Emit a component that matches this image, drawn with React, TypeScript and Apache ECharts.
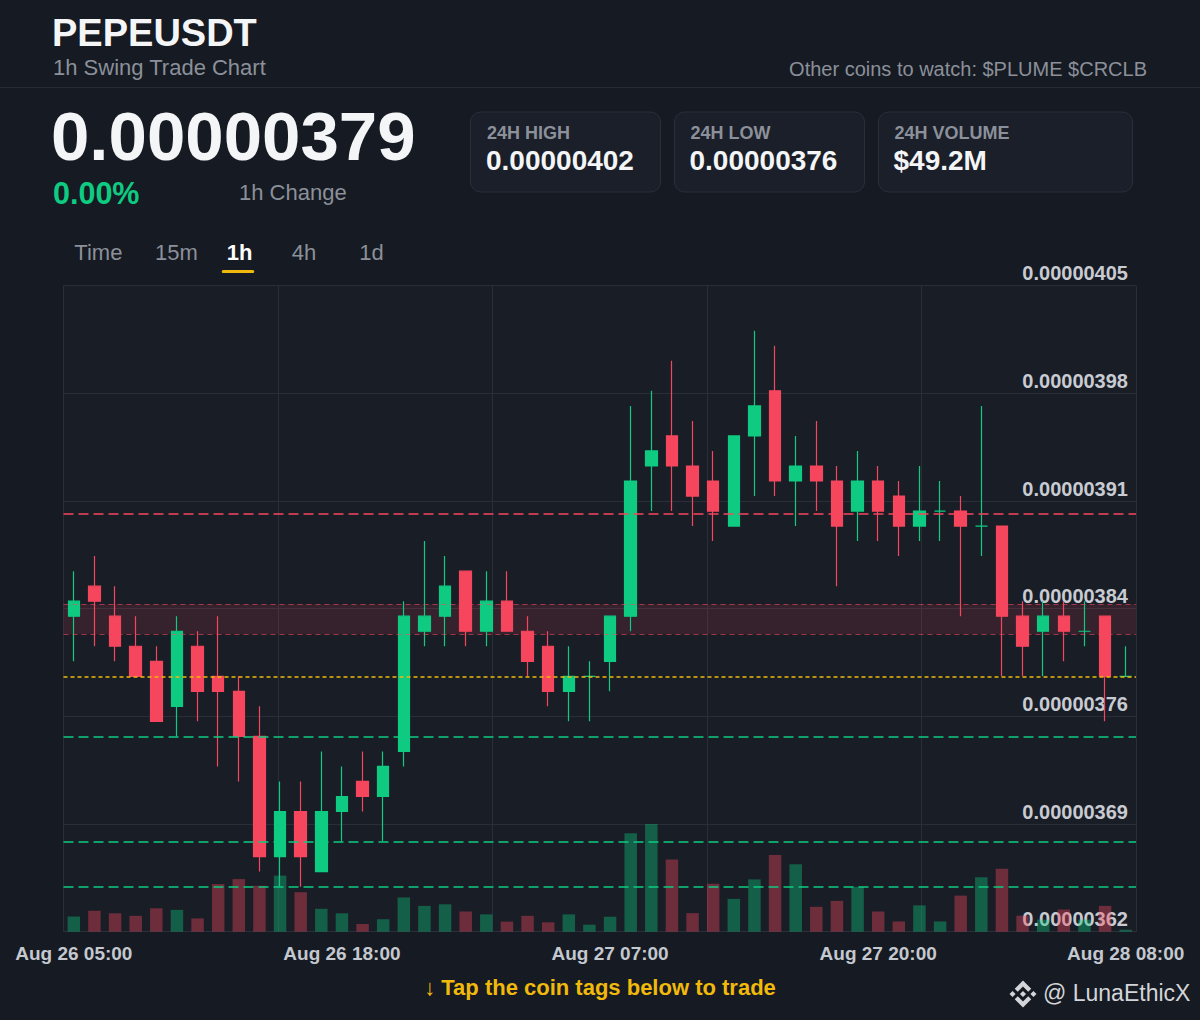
import React, { useEffect, useRef } from "react";
import * as echarts from "echarts";

// ---- data (prices in units of 1e-8 USDT) ----
const OPEN = [383, 385, 383, 381, 380, 377, 381, 379, 378, 375, 367, 370, 366, 370, 372, 371, 374, 382, 383, 386, 382, 384, 382, 381, 378, 379, 380, 383, 393, 395, 393, 392, 389, 395, 398, 392, 393, 392, 390, 392, 391, 389, 390, 390, 389, 389, 383, 382, 383, 382, 383, 379];
const HIGH = [386, 387, 385, 383, 381, 383, 382, 383, 379, 377, 372, 372, 374, 373, 374, 374, 384, 388, 387, 386, 386, 386, 383, 382, 381, 380, 383, 397, 398, 400, 396, 394, 395, 402, 401, 395, 396, 393, 394, 393, 392, 393, 392, 391, 397, 389, 384, 384, 384, 384, 383, 381];
const LOW = [380, 381, 380, 379, 376, 375, 376, 373, 372, 366, 365, 365, 366, 368, 370, 368, 373, 381, 381, 381, 381, 382, 379, 377, 376, 376, 378, 382, 390, 390, 389, 388, 389, 391, 391, 389, 390, 385, 388, 388, 387, 388, 388, 383, 387, 379, 379, 379, 380, 381, 376, 379];
const CLOSE = [384, 384, 381, 379, 376, 382, 378, 378, 375, 367, 370, 367, 370, 371, 371, 373, 383, 383, 385, 382, 384, 382, 380, 378, 379, 379, 383, 392, 394, 393, 391, 390, 395, 397, 392, 393, 392, 389, 392, 390, 389, 390, 390, 389, 389, 383, 381, 383, 382, 382, 379, 379];
// volume, millions USDT
const VOLUME = [0.84, 1.16, 1.02, 0.88, 1.3, 1.21, 0.74, 2.64, 2.92, 2.55, 3.11, 2.19, 1.27, 1.02, 0.43, 0.69, 1.9, 1.43, 1.52, 1.12, 0.96, 0.56, 0.88, 0.52, 0.96, 0.39, 0.83, 5.46, 5.97, 4.01, 1.03, 2.66, 1.82, 2.9, 4.25, 3.74, 1.38, 1.71, 2.49, 1.12, 0.57, 1.46, 0.57, 2.0, 3.02, 3.49, 0.89, 0.67, 1.23, 0.67, 1.43, 0.11];

// price axis range (1e-8 units)
const AXIS_MIN = 362;
const AXIS_MAX = 405;
const AXIS_SPLITS = 6;

// levels (1e-8 units)
const RESISTANCE = [389.8];
const ZONE = [381.8, 383.8];
const CURRENT = [379];
const SUPPORTS = [375, 368, 365];

// time categories
const START_DAY = 26;
const START_HOUR = 5;
const LABEL_INDEXES = [0, 13, 26, 39, 51];

const pad = (n: number) => (n < 10 ? "0" + n : "" + n);
const TIMES: string[] = OPEN.map((_, i) => {
  const h = START_HOUR + i;
  return `Aug ${START_DAY + Math.floor(h / 24)} ${pad(h % 24)}:00`;
});

const UP = "#0ecb81";
const DOWN = "#f6465d";
const FONT = "'Liberation Sans', Arial, Helvetica, sans-serif";
const BINANCE =
  "M16.624 13.9202l2.7175 2.7154-7.353 7.353-7.353-7.352 2.7175-2.7164 4.6355 4.6595 4.6356-4.6595zm4.6366-4.6366L24 12l-2.7154 2.7164L18.5682 12l2.6924-2.7164zm-9.272.001l2.7163 2.6914-2.7164 2.7174v-.001L9.2721 12l2.7164-2.7154zm-9.2722-.001L5.4088 12l-2.6914 2.6924L0 12l2.7164-2.7164zM11.9885.0115l7.353 7.329-2.7174 2.7154-4.6356-4.6356-4.6355 4.6595-2.7174-2.7154 7.353-7.353z";

let registered = false;

export default function App() {
  const ref = useRef<HTMLDivElement>(null);

  useEffect(() => {
    if (!ref.current) return;
    if (!registered) {
      echarts.graphic.registerShape("binanceLogo", echarts.graphic.extendPath(BINANCE, {}));
      registered = true;
    }
    const chart = echarts.init(ref.current, null, { renderer: "svg", width: 1200, height: 1020 });

    const candleData = OPEN.map((o, i) => [o - AXIS_MIN, CLOSE[i] - AXIS_MIN, LOW[i] - AXIS_MIN, HIGH[i] - AXIS_MIN]);
    const isUp = (i: number) => {
      if (CLOSE[i] > OPEN[i]) return true;
      if (CLOSE[i] < OPEN[i]) return false;
      return i === 0 ? true : CLOSE[i - 1] <= CLOSE[i];
    };
    const volData = VOLUME.map((v, i) => ({
      value: v,
      itemStyle: { color: isUp(i) ? UP : DOWN, opacity: 0.38 },
    }));
    const maxVol = Math.max(...VOLUME);

    const dashed = (v: number, color: string, type: any, width: number) => ({
      yAxis: v - AXIS_MIN,
      lineStyle: { color, type, width },
    });

    const gray = "#8b909a";
    const white = "#f4f5f6";
    const txt = (text: string, x: number, y: number, size: number, color: string, weight: string = "normal", align: string = "left") => ({
      type: "text",
      x,
      y,
      silent: true,
      style: { text, fill: color, fontSize: size, fontWeight: weight, fontFamily: FONT, align, verticalAlign: "middle" },
    });
    const box = (x: number, w: number) => ({
      type: "rect",
      shape: { x: x + 0.5, y: 112, width: w, height: 80, r: 10 },
      style: { fill: "#1b1f29", stroke: "#2a2e38", lineWidth: 1 },
      silent: true,
    });

    const option: any = {
      animation: false,
      backgroundColor: "#161a22",
      textStyle: { fontFamily: FONT },
      grid: [
        { left: 63.5, right: 64, top: 285.7, bottom: 88.3, show: true, backgroundColor: "#191d26", borderWidth: 0 },
      ],
      xAxis: [
        {
          type: "category",
          data: TIMES,
          boundaryGap: true,
          axisLine: { lineStyle: { color: "#2b2f3a", width: 1 } },
          axisTick: { show: false },
          splitLine: { show: false },
          axisLabel: {
            interval: (i: number) => LABEL_INDEXES.indexOf(i) >= 0,
            color: "#c4c8cf",
            fontSize: 19,
            fontWeight: "bold",
            fontFamily: FONT,
            margin: 12,
          },
        },
        {
          type: "value",
          min: 0,
          max: 5,
          interval: 1,
          position: "top",
          axisLine: { show: false },
          axisTick: { show: false },
          axisLabel: { show: false },
          splitLine: { show: true, lineStyle: { color: "#2a2e38", width: 1 } },
        },
      ],
      yAxis: [
        {
          type: "value",
          position: "right",
          min: 0,
          max: AXIS_MAX - AXIS_MIN,
          interval: (AXIS_MAX - AXIS_MIN) / AXIS_SPLITS,
          axisLine: { show: false },
          axisTick: { show: false },
          splitLine: { show: true, lineStyle: { color: "#2a2e38", width: 1 } },
          axisLabel: {
            inside: true,
            margin: 8,
            color: "#c8cbd2",
            fontSize: 20,
            fontWeight: "bold",
            fontFamily: FONT,
            verticalAlign: "bottom",
            lineHeight: 25,
            formatter: (v: number) => (Math.round(v + AXIS_MIN) * 1e-8).toFixed(8),
          },
        },
        { type: "value", min: 0, max: maxVol * 6, show: false, splitLine: { show: false } },
      ],
      series: [
        {
          type: "bar",
          name: "Volume",
          xAxisIndex: 0,
          yAxisIndex: 1,
          data: volData,
          barWidth: 12.5,
          z: 1,
          silent: true,
        },
        {
          type: "candlestick",
          name: "PEPEUSDT",
          xAxisIndex: 0,
          yAxisIndex: 0,
          data: candleData,
          barWidth: 12,
          z: 3,
          itemStyle: { color: UP, color0: DOWN, borderColor: UP, borderColor0: DOWN, borderWidth: 1.2 },
          markArea: {
            silent: true,
            itemStyle: { color: "rgba(246,70,93,0.13)" },
            data: [[{ yAxis: ZONE[0] - AXIS_MIN }, { yAxis: ZONE[1] - AXIS_MIN }]],
          },
          markLine: {
            silent: true,
            symbol: ["none", "none"],
            label: { show: false },
            data: [
              ...RESISTANCE.map((v) => dashed(v, DOWN, [10, 5], 1.5)),
              ...ZONE.map((v) => dashed(v, "rgba(246,70,93,0.6)", [5, 4], 1)),
              ...CURRENT.map((v) => dashed(v, "#f0b90b", [4, 3], 1.5)),
              ...SUPPORTS.map((v) => dashed(v, UP, [10, 5], 1.5)),
            ],
          },
        },
      ],
      graphic: [
        txt("PEPEUSDT", 52, 32.5, 38, white, "bold"),
        txt("1h Swing Trade Chart", 53, 67.3, 22, gray),
        txt("Other coins to watch: $PLUME $CRCLB", 1147, 68.5, 20, gray, "normal", "right"),
        { type: "rect", shape: { x: 0, y: 87, width: 1200, height: 1 }, style: { fill: "#252a33" }, silent: true },
        txt("0.00000379", 51, 136, 69, white, "bold"),
        txt("0.00%", 53, 192.5, 30.5, UP, "bold"),
        txt("1h Change", 239, 192.2, 22, gray),
        box(470, 190),
        box(674, 190),
        box(878, 254),
        txt("24H HIGH", 487, 132.8, 18, gray, "bold"),
        txt("24H LOW", 690.5, 132.8, 18, gray, "bold"),
        txt("24H VOLUME", 894.5, 132.8, 18, gray, "bold"),
        txt("0.00000402", 486, 160, 28, white, "bold"),
        txt("0.00000376", 689.5, 160, 28, white, "bold"),
        txt("$49.2M", 893.5, 160, 28, white, "bold"),
        txt("Time", 74.3, 252, 22, gray),
        txt("15m", 155, 252, 22, gray),
        txt("1h", 226.7, 252, 22, "#ffffff", "bold"),
        txt("4h", 291.7, 252, 22, gray),
        txt("1d", 359.3, 252, 22, gray),
        { type: "rect", shape: { x: 221.7, y: 270, width: 32.6, height: 3, r: 1.5 }, style: { fill: "#f0b90b" }, silent: true },
        txt("↓ Tap the coin tags below to trade", 600, 987, 22, "#f0b90b", "bold", "center"),
        {
          type: "binanceLogo",
          x: 1009.5,
          y: 980.5,
          scaleX: 27 / 24,
          scaleY: 27 / 24,
          style: { fill: "#d3d5d9" },
          silent: true,
        },
        txt("@ LunaEthicX", 1043, 993.4, 23, "#d3d5d9"),
      ],
    };

    chart.setOption(option);
    return () => chart.dispose();
  }, []);

  return (
    <div style={{ position: "fixed", left: 0, top: 0, width: 1200, height: 1020, background: "#161a22" }}>
      <div ref={ref} style={{ width: 1200, height: 1020 }} />
    </div>
  );
}
